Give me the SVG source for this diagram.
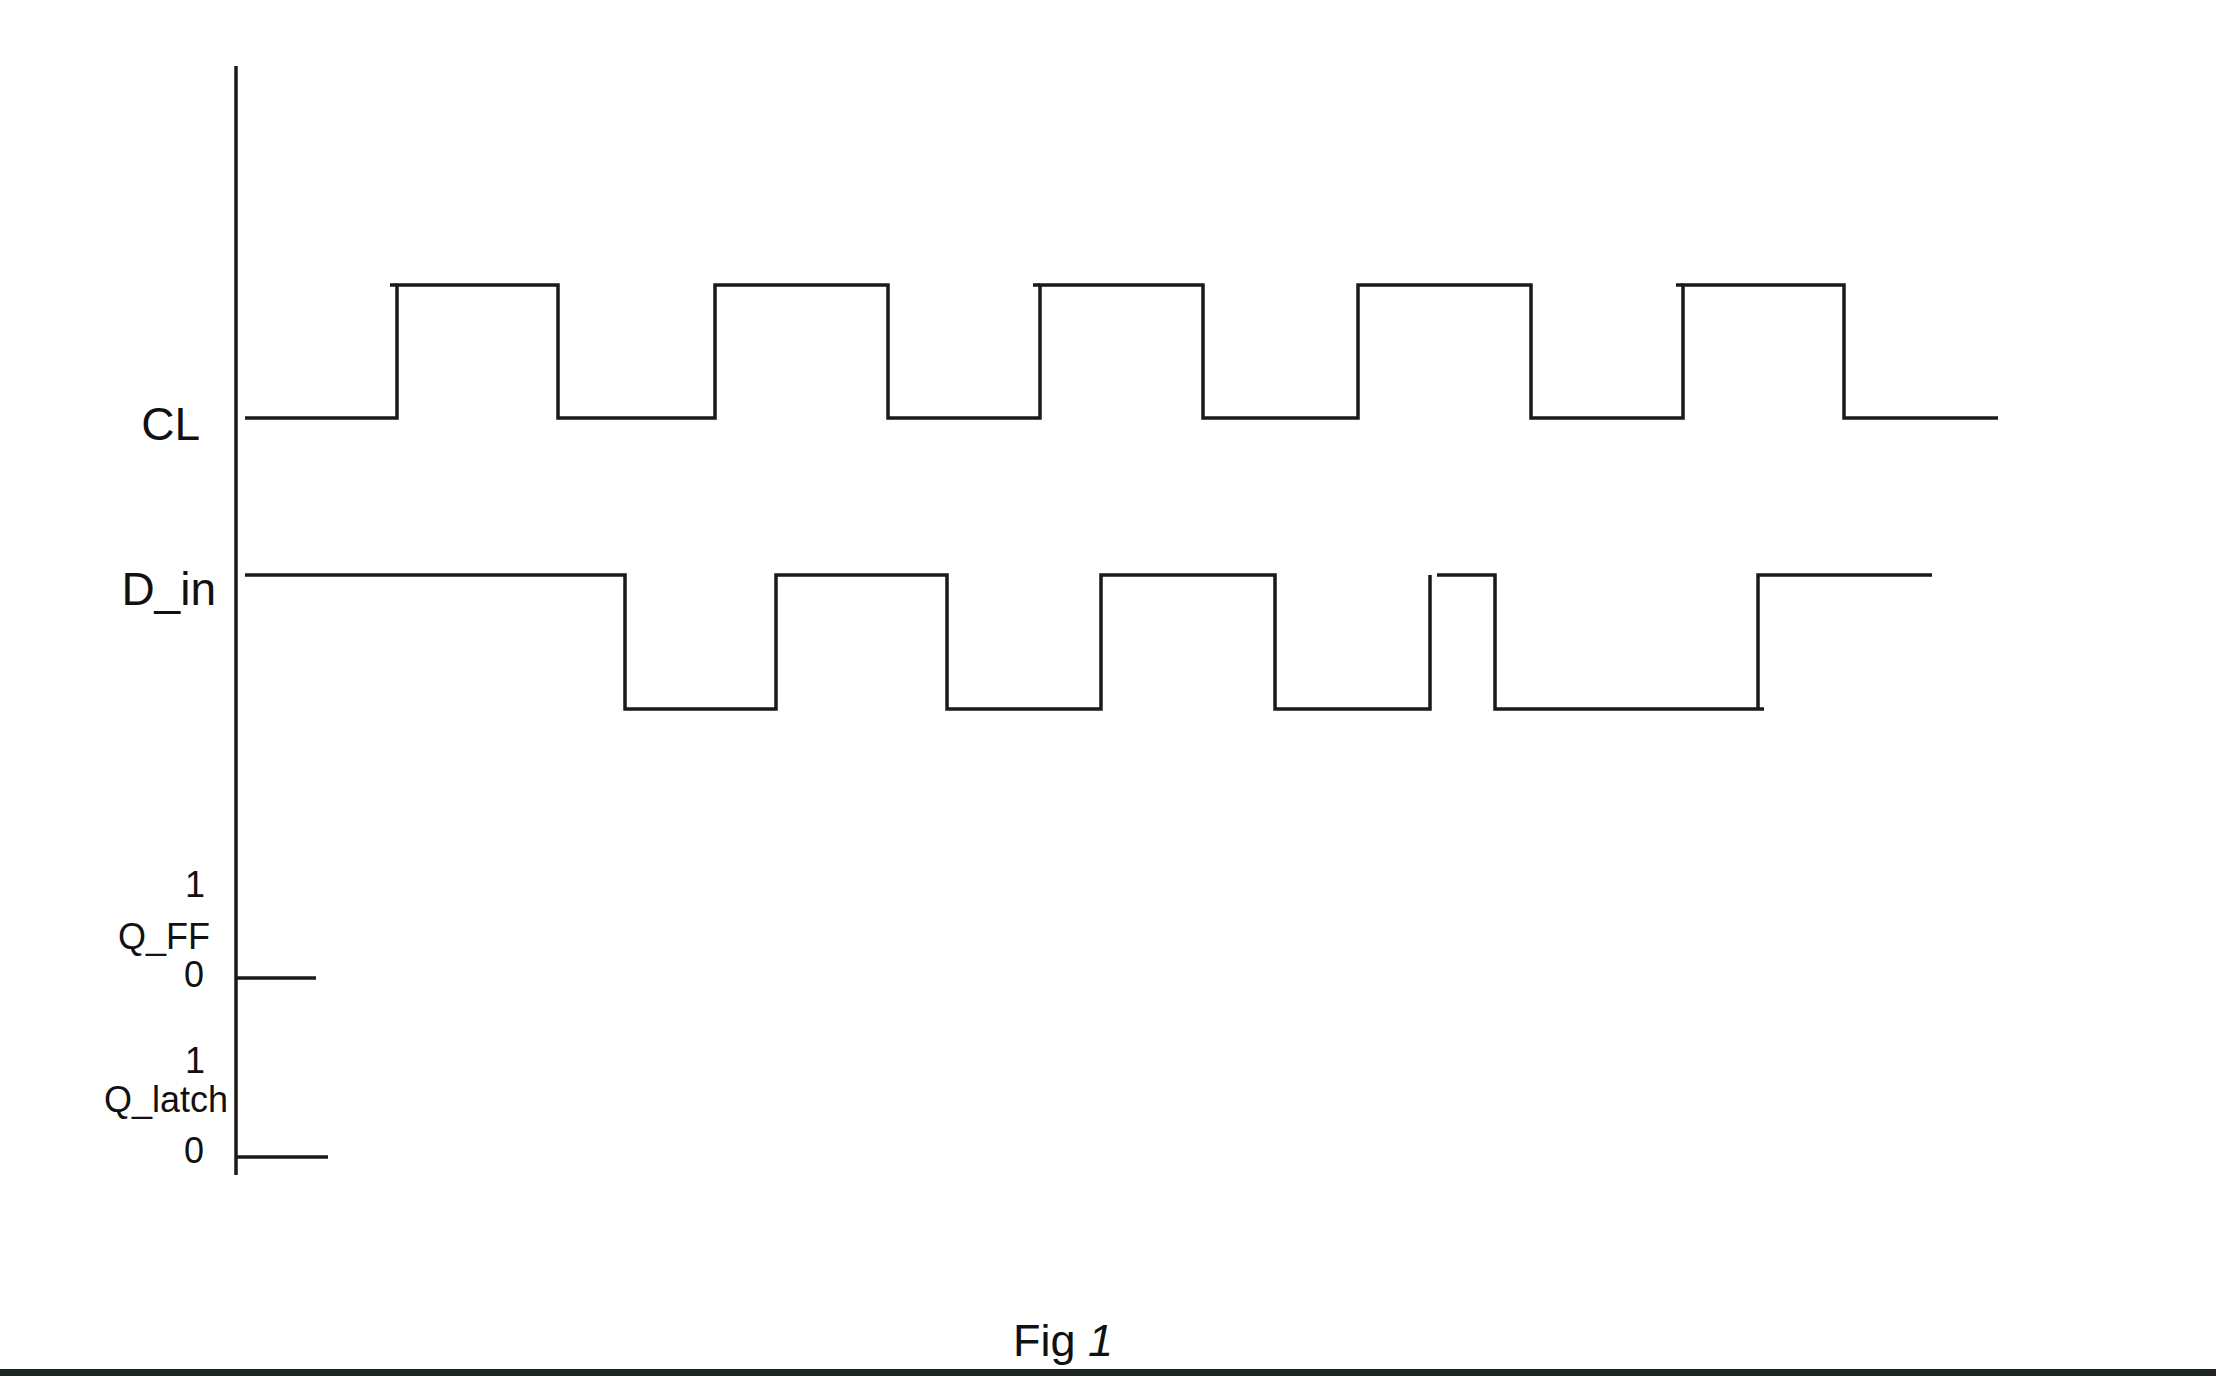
<svg xmlns="http://www.w3.org/2000/svg" width="2216" height="1376" viewBox="0 0 2216 1376">
<style>
.w{fill:none;stroke:#1a1a1a;stroke-width:3.5;stroke-linejoin:miter;stroke-linecap:butt}
.ax{fill:none;stroke:#1a1a1a;stroke-width:3.5}
.lb{font-family:"Liberation Sans",Arial,sans-serif;fill:#111}
.big{font-size:46px}
.sm{font-size:36px}
</style>
<rect x="0" y="0" width="2216" height="1376" fill="#ffffff"/>
<rect x="0" y="1369" width="2216" height="7" fill="#1f2622"/>
<g id="axis">
<line class="ax" x1="236" y1="66" x2="236" y2="1175"/>
</g>
<g id="CL">
<text class="lb big" x="200" y="440" text-anchor="end">CL</text>
<polyline class="w" points="245,418 397,418 397,285 558,285 558,418 715,418 715,285 888,285 888,418 1040,418 1040,285 1203,285 1203,418 1358,418 1358,285 1531,285 1531,418 1683,418 1683,285 1844,285 1844,418 1998,418"/>
<line class="w" x1="390" y1="285" x2="397" y2="285"/>
<line class="w" x1="1033" y1="285" x2="1040" y2="285"/>
<line class="w" x1="1676" y1="285" x2="1683" y2="285"/>
</g>
<g id="D_in">
<text class="lb big" x="216" y="605" text-anchor="end">D_in</text>
<polyline class="w" points="245,575 625,575 625,709 776,709 776,575 947,575 947,709 1101,709 1101,575 1275,575 1275,709 1430,709 1430,575"/>
<polyline class="w" points="1437,575 1495,575 1495,709 1764,709"/>
<polyline class="w" points="1758,709 1758,575 1932,575"/>
</g>
<g id="Q_FF">
<text class="lb sm" x="185" y="897">1</text>
<text class="lb sm" x="118" y="949">Q_FF</text>
<text class="lb sm" x="184" y="987">0</text>
<line class="w" x1="236" y1="978" x2="316" y2="978"/>
</g>
<g id="Q_latch">
<text class="lb sm" x="185" y="1073">1</text>
<text class="lb sm" x="104" y="1112">Q_latch</text>
<text class="lb sm" x="184" y="1163">0</text>
<line class="w" x1="236" y1="1157" x2="328" y2="1157"/>
</g>
<g id="caption">
<text class="lb" font-size="45" x="1013" y="1356">Fig <tspan font-style="italic">1</tspan></text>
</g>
</svg>
